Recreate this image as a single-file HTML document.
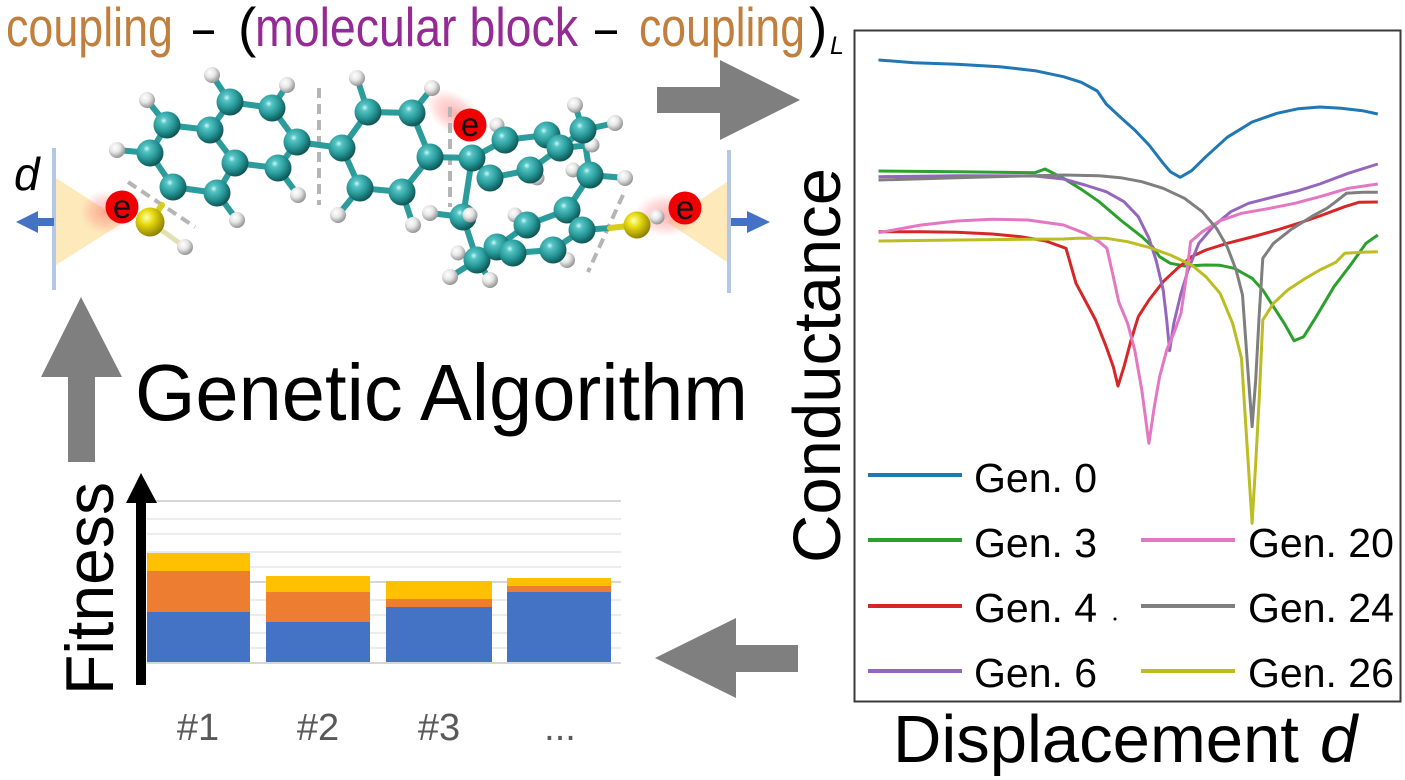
<!DOCTYPE html>
<html><head><meta charset="utf-8"><style>
html,body{margin:0;padding:0;background:#fff;}
svg{display:block;}
text{font-family:"Liberation Sans",Arial,sans-serif;}
</style></head><body>
<svg width="1405" height="780" viewBox="0 0 1405 780" xmlns="http://www.w3.org/2000/svg">
<defs>
<radialGradient id="gC" cx="0.38" cy="0.34" r="0.68"><stop offset="0" stop-color="#d2f7f7"/><stop offset="0.18" stop-color="#55c4c4"/><stop offset="0.6" stop-color="#259595"/><stop offset="1" stop-color="#0e5252"/></radialGradient>
<radialGradient id="gH" cx="0.38" cy="0.34" r="0.7"><stop offset="0" stop-color="#ffffff"/><stop offset="0.45" stop-color="#e6e6e6"/><stop offset="1" stop-color="#8c8c8c"/></radialGradient>
<radialGradient id="gS" cx="0.38" cy="0.34" r="0.7"><stop offset="0" stop-color="#ffffb0"/><stop offset="0.35" stop-color="#e8dc10"/><stop offset="1" stop-color="#8a7a00"/></radialGradient>
<radialGradient id="glow" cx="0.5" cy="0.5" r="0.5"><stop offset="0" stop-color="#ff5050" stop-opacity="0.45"/><stop offset="0.6" stop-color="#ff7070" stop-opacity="0.25"/><stop offset="1" stop-color="#ff9090" stop-opacity="0"/></radialGradient>
</defs>

<!-- Title -->
<text x="6" y="46" font-size="55" fill="#c17f3e" textLength="167" lengthAdjust="spacingAndGlyphs">coupling</text>
<text x="193" y="46" font-size="55" fill="#000" textLength="21" lengthAdjust="spacingAndGlyphs">–</text>
<text x="238" y="46" font-size="55" fill="#000">(</text>
<text x="255" y="46" font-size="55" fill="#952a94" textLength="323" lengthAdjust="spacingAndGlyphs">molecular block</text>
<text x="595" y="46" font-size="55" fill="#000" textLength="22" lengthAdjust="spacingAndGlyphs">–</text>
<text x="639" y="46" font-size="55" fill="#c17f3e" textLength="166" lengthAdjust="spacingAndGlyphs">coupling</text>
<text x="809" y="46" font-size="55" fill="#000">)</text>
<text x="830" y="54" font-size="25" font-style="italic" fill="#000">L</text>

<!-- Electrodes left -->
<line x1="54" y1="148" x2="54" y2="290" stroke="#b4c7e7" stroke-width="4"/>
<polygon points="56,178 56,265 124,222" fill="#fde5ae" opacity="0.85"/>
<path d="M54 222 L36 222" stroke="#4472c4" stroke-width="8"/>
<polygon points="16,222 38,211 38,233" fill="#4472c4"/>
<text x="14" y="190" font-size="46" font-style="italic" fill="#000">d</text>

<!-- Electrodes right -->
<line x1="729" y1="150" x2="729" y2="293" stroke="#b4c7e7" stroke-width="4"/>
<polygon points="727,182 727,262 667,222" fill="#fde5ae" opacity="0.85"/>
<path d="M731 222 L749 222" stroke="#4472c4" stroke-width="8"/>
<polygon points="770,222 747,211 747,233" fill="#4472c4"/>

<!-- glows -->
<ellipse cx="106" cy="212" rx="26" ry="22" fill="url(#glow)"/>
<ellipse cx="455" cy="114" rx="34" ry="20" transform="rotate(35 455 114)" fill="url(#glow)"/>
<ellipse cx="666" cy="215" rx="32" ry="22" fill="url(#glow)"/>

<!-- dashed lines -->
<g stroke="#b5b5b5" stroke-width="4" stroke-dasharray="10,6" fill="none">
<line x1="128" y1="182" x2="195" y2="227"/>
<line x1="319" y1="88" x2="319" y2="205"/>
<line x1="450" y1="107" x2="450" y2="207"/>
<line x1="623" y1="195" x2="588" y2="272"/>
</g>

<!-- bonds -->
<path fill="none" stroke="#2b9b9b" stroke-width="6" stroke-linecap="round" d="
M173 187L150 153 M150 153L167 125 M167 125L210 130 M210 130L235 163 M235 163L217 193 M217 193L173 187
M210 130L230 102 M230 102L272 108 M272 108L297 142 M297 142L278 168 M278 168L235 163
M297 142L342 148 M342 148L368 112 M368 112L412 113 M412 113L430 157 M430 157L402 192 M402 192L360 188 M360 188L342 148
M430 157L472 158 M472 158L505 140 M472 158L490 178 M505 140L547 135 M547 135L560 148 M560 148L583 130
M490 178L530 170 M530 170L560 148 M583 130L590 175 M590 175L567 210 M472 158L463 217 M463 217L477 260
M477 260L497 247 M497 247L513 253 M497 247L527 225 M527 225L567 210 M513 253L553 250 M553 250L582 230 M582 230L567 210
M150 153L117 150 M167 125L147 100 M230 102L212 75 M272 108L287 85 M217 193L237 220 M278 168L298 195
M368 112L357 78 M412 113L432 88 M360 188L338 215 M402 192L413 225
M583 130L575 105 M583 130L615 123 M560 148L592 145 M530 170L537 178 M590 175L573 170 M590 175L625 178
M463 217L430 213 M463 217L470 215 M527 225L515 215 M553 250L567 260 M477 260L458 253 M477 260L450 277 M477 260L490 280
M582 230L610 228"/>
<path fill="none" stroke="#d8cc20" stroke-width="6" stroke-linecap="round" d="M162 205L150 222 M610 228L637 225"/>
<path fill="none" stroke="#e0e0b0" stroke-width="5" stroke-linecap="round" d="M150 222L185 247"/>

<!-- H atoms -->
<g fill="url(#gH)">
<circle cx="117" cy="150" r="8"/><circle cx="147" cy="100" r="8"/><circle cx="212" cy="75" r="8"/><circle cx="287" cy="85" r="8"/>
<circle cx="237" cy="220" r="8"/><circle cx="298" cy="195" r="8"/><circle cx="357" cy="78" r="8"/><circle cx="432" cy="88" r="8"/>
<circle cx="338" cy="215" r="8"/><circle cx="413" cy="225" r="8"/><circle cx="497" cy="125" r="7.5"/><circle cx="575" cy="105" r="8"/>
<circle cx="615" cy="123" r="8"/><circle cx="592" cy="145" r="7.5"/><circle cx="537" cy="178" r="7.5"/><circle cx="573" cy="170" r="7.5"/>
<circle cx="625" cy="178" r="8"/><circle cx="430" cy="213" r="8"/><circle cx="515" cy="215" r="7.5"/>
<circle cx="567" cy="260" r="8"/><circle cx="458" cy="253" r="7.5"/><circle cx="450" cy="277" r="8"/><circle cx="490" cy="280" r="8"/>
<circle cx="185" cy="247" r="8"/><circle cx="657" cy="217" r="7.5"/>
</g>
<!-- C atoms -->
<g fill="url(#gC)">
<circle cx="173" cy="187" r="13.5"/><circle cx="150" cy="153" r="13.5"/><circle cx="167" cy="125" r="13.5"/><circle cx="210" cy="130" r="13.5"/>
<circle cx="235" cy="163" r="13.5"/><circle cx="217" cy="193" r="13.5"/><circle cx="230" cy="102" r="13.5"/><circle cx="272" cy="108" r="13.5"/>
<circle cx="297" cy="142" r="13.5"/><circle cx="278" cy="168" r="13.5"/><circle cx="342" cy="148" r="13.5"/><circle cx="368" cy="112" r="13.5"/>
<circle cx="412" cy="113" r="13.5"/><circle cx="430" cy="157" r="13.5"/><circle cx="402" cy="192" r="13.5"/><circle cx="360" cy="188" r="13.5"/>
<circle cx="472" cy="158" r="13.5"/><circle cx="490" cy="178" r="13.5"/><circle cx="505" cy="140" r="13.5"/><circle cx="530" cy="170" r="13.5"/>
<circle cx="547" cy="135" r="13.5"/><circle cx="560" cy="148" r="13.5"/><circle cx="583" cy="130" r="13.5"/><circle cx="590" cy="175" r="13.5"/>
<circle cx="463" cy="217" r="13.5"/><circle cx="567" cy="210" r="13.5"/><circle cx="527" cy="225" r="13.5"/><circle cx="582" cy="230" r="13.5"/>
<circle cx="477" cy="260" r="13.5"/><circle cx="497" cy="247" r="13.5"/><circle cx="513" cy="253" r="13.5"/><circle cx="553" cy="250" r="13.5"/>
</g>
<circle cx="470" cy="215" r="7.5" fill="url(#gH)"/>
<!-- S atoms -->
<circle cx="150" cy="222" r="14.5" fill="url(#gS)"/>
<circle cx="637" cy="225" r="13.5" fill="url(#gS)"/>

<!-- e circles -->
<circle cx="122" cy="207" r="16.5" fill="#f00000"/>
<text x="122" y="218" font-size="33" text-anchor="middle" fill="#111">e</text>
<circle cx="470" cy="125" r="16.5" fill="#f00000"/>
<text x="470" y="136" font-size="33" text-anchor="middle" fill="#111">e</text>
<circle cx="685" cy="208" r="16.5" fill="#f00000"/>
<text x="685" y="219" font-size="33" text-anchor="middle" fill="#111">e</text>

<!-- big gray arrows -->
<polygon points="657,87 720,87 720,60 800,100 720,140 720,113 657,113" fill="#7f7f7f"/>
<polygon points="81,297 122,377 95,377 95,462 68,462 68,377 41,377" fill="#7f7f7f"/>
<polygon points="655,658 736,618 736,645 798,645 798,672 736,672 736,698" fill="#7f7f7f"/>

<!-- Genetic Algorithm -->
<text x="135" y="420" font-size="80" fill="#000" textLength="613" lengthAdjust="spacingAndGlyphs">Genetic Algorithm</text>

<!-- Bar chart -->
<g stroke-width="2">
<line x1="147" y1="501" x2="621" y2="501" stroke="#d6d6d6"/>
<line x1="147" y1="519" x2="621" y2="519" stroke="#ececec"/>
<line x1="147" y1="534" x2="621" y2="534" stroke="#ececec"/>
<line x1="147" y1="552" x2="621" y2="552" stroke="#ececec"/>
<line x1="147" y1="567" x2="621" y2="567" stroke="#ececec"/>
<line x1="147" y1="582" x2="621" y2="582" stroke="#d6d6d6"/>
<line x1="147" y1="600" x2="621" y2="600" stroke="#ececec"/>
<line x1="147" y1="615" x2="621" y2="615" stroke="#ececec"/>
<line x1="147" y1="633" x2="621" y2="633" stroke="#ececec"/>
<line x1="147" y1="648" x2="621" y2="648" stroke="#ececec"/>
<line x1="147" y1="663" x2="621" y2="663" stroke="#d6d6d6"/>
</g>
<rect x="147" y="553" width="103" height="18" fill="#ffc000"/>
<rect x="147" y="571" width="103" height="41" fill="#ed7d31"/>
<rect x="147" y="612" width="103" height="50" fill="#4472c4"/>
<rect x="266" y="576" width="104" height="16" fill="#ffc000"/>
<rect x="266" y="592" width="104" height="30" fill="#ed7d31"/>
<rect x="266" y="622" width="104" height="40" fill="#4472c4"/>
<rect x="386" y="581" width="106" height="18" fill="#ffc000"/>
<rect x="386" y="599" width="106" height="8" fill="#ed7d31"/>
<rect x="386" y="607" width="106" height="55" fill="#4472c4"/>
<rect x="507" y="578" width="104" height="8" fill="#ffc000"/>
<rect x="507" y="586" width="104" height="6" fill="#ed7d31"/>
<rect x="507" y="592" width="104" height="70" fill="#4472c4"/>
<rect x="136" y="500" width="10" height="185" fill="#000"/>
<polygon points="126,503 157,503 141,473" fill="#000"/>
<text transform="translate(113,695) rotate(-90)" font-size="68" fill="#000" textLength="213" lengthAdjust="spacingAndGlyphs">Fitness</text>
<g font-size="38" fill="#595959" text-anchor="middle">
<text x="198" y="740">#1</text><text x="318" y="740">#2</text><text x="439" y="740">#3</text><text x="560" y="740">...</text>
</g>

<!-- Conductance plot -->
<rect x="854.5" y="30.5" width="546" height="671" fill="none" stroke="#3a3a3a" stroke-width="2"/>
<text transform="translate(840,563) rotate(-90)" font-size="67" fill="#000" textLength="395" lengthAdjust="spacingAndGlyphs">Conductance</text>
<text x="893" y="762" font-size="67" fill="#000">Displacement</text>
<text x="1320" y="762" font-size="67" font-style="italic" fill="#000">d</text>

<g fill="none" stroke-width="3" stroke-linejoin="round">
<polyline stroke="#1f77b4" points="878.5,60 914,62.7 956.8,64.3 999.5,66.7 1035,70.7 1063.5,76.7 1081.3,82.3 1097.3,91 1106.2,104 1120.5,117.3 1134.7,130 1149,145 1163.2,163.3 1170.3,171.7 1180.2,177.3 1191.6,170.7 1205.9,156.7 1227.2,137.3 1252.1,122 1277,113.3 1298.4,108.7 1319.8,107 1341.1,108.3 1362.5,110.7 1377.8,114"/>
<polyline stroke="#2ca02c" points="878.5,171 956.8,171.7 1035,172.7 1045,169 1063.5,178.3 1081.3,189.3 1099.1,201.7 1120.5,220 1141.8,236.7 1152.5,246.7 1159.6,256.7 1170.3,263.3 1184.5,266 1205.9,265 1220.1,265.3 1234.3,268.3 1252.1,278.3 1262.8,290 1273.5,306.7 1284.2,323.3 1294.1,340.7 1303.7,336.7 1316.2,316.7 1334,286.7 1351.8,263.3 1366,243.3 1377.8,235"/>
<polyline stroke="#d62728" points="878.5,231.7 921.2,231.7 956.8,232.3 992.3,234 1020.8,236.7 1045.7,241 1066,248.3 1076,283.3 1084.9,300 1095.6,320 1106.2,346.7 1113.3,366.7 1118,386 1124,366.7 1131.1,340 1138.3,316.7 1149,300 1163.2,281.7 1177.4,268.3 1191.6,256.7 1205.9,250 1227.2,243.3 1255.7,236 1277,230 1298.4,223.3 1319.8,216 1344.7,206.7 1358.9,202.3 1377.8,202"/>
<polyline stroke="#9467bd" points="878.5,176.7 956.8,175.7 1035,176 1063.5,179 1084.9,185 1106.2,191.7 1124,201.7 1138.3,216.7 1149,238.3 1156,260 1163.2,290 1166.7,320 1169.6,350.7 1173.8,323.3 1181,293.3 1188.1,270 1198.8,243.3 1213,226.7 1230.8,211.7 1248.6,203.3 1277,196 1298.4,190.7 1319.8,184 1348.2,173.3 1377.8,164"/>
<polyline stroke="#e377c2" points="878.5,232.7 921.2,225 956.8,221 992.3,219.3 1027.9,220 1063.5,225 1084.9,233.3 1099.1,241.7 1106.9,248.3 1113.3,276.7 1118.7,301.7 1127.6,323.3 1134.7,350 1141.8,390 1148.9,443.3 1154.3,406.7 1159.6,376.7 1166.7,350 1173.8,333.3 1181,313.3 1186.3,276.7 1190.6,241.7 1202.3,231.7 1220.1,220.7 1241.5,213.3 1269.9,208.3 1294.8,203.3 1319.8,196.7 1348.2,188.3 1377.8,184"/>
<polyline stroke="#7f7f7f" points="878.5,180 956.8,177.7 1035,175.7 1063.5,175 1099.1,175.7 1120.5,177.7 1141.8,181.7 1163.2,188.3 1184.5,198.3 1202.3,211.7 1216.5,228.3 1227.2,246.7 1236.1,270 1242.5,295 1245,330 1248.6,380 1252.1,426.7 1255.7,380 1259.3,313.3 1262.8,258.3 1273.5,243.3 1291.3,229.3 1312.6,216 1326.9,208.3 1335.8,201.7 1346.4,193.3 1362.5,192.3 1377.8,192.3"/>
<polyline stroke="#bcbd22" points="878.5,241 956.8,240 1027.9,239.3 1063.5,239 1077.8,238.3 1106.2,238.3 1127.6,241.7 1148.9,247.3 1170.3,255 1191.6,265 1205.9,276.7 1220.1,293.3 1232.6,323.3 1241.5,358.3 1245,413.3 1249.3,480 1252.1,523.3 1255.7,463.3 1259.3,396.7 1262.8,320 1273.5,303.3 1287.7,290 1305.5,278.3 1319.8,270 1335.8,262.3 1344.7,253.3 1362.5,252.3 1377.8,251.7"/>
</g>

<!-- Legend -->
<g stroke-width="4">
<line x1="868" y1="475" x2="962" y2="475" stroke="#1f77b4"/>
<line x1="868" y1="540" x2="962" y2="540" stroke="#2ca02c"/>
<line x1="868" y1="606" x2="962" y2="606" stroke="#d62728"/>
<line x1="868" y1="671" x2="962" y2="671" stroke="#9467bd"/>
<line x1="1141" y1="540" x2="1235" y2="540" stroke="#e377c2"/>
<line x1="1141" y1="606" x2="1235" y2="606" stroke="#7f7f7f"/>
<line x1="1141" y1="671" x2="1235" y2="671" stroke="#bcbd22"/>
</g>
<g font-size="41" fill="#000">
<text x="974" y="492">Gen. 0</text>
<text x="974" y="557">Gen. 3</text>
<text x="974" y="622">Gen. 4</text>
<text x="974" y="687">Gen. 6</text>
<text x="1248" y="557">Gen. 20</text>
<text x="1248" y="622">Gen. 24</text>
<text x="1248" y="687">Gen. 26</text>
</g>
<circle cx="1115" cy="619" r="1.5" fill="#000"/>
</svg>
</body></html>
